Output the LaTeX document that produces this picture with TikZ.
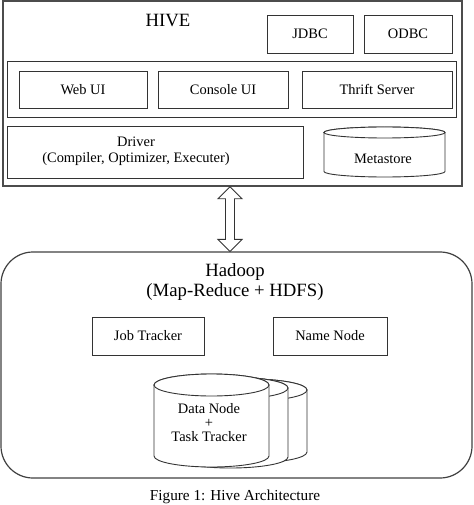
\documentclass[tikz,border=0pt]{standalone}
\usepackage{fontspec}
\setmainfont{Liberation Serif}
\usetikzlibrary{calc}
\newcommand\fsm{\fontsize{14.5}{15}\selectfont}
\newcommand\fbg{\fontsize{18.8}{20}\selectfont}
\newcommand\mycyl[5]{%
  \filldraw[cylstyle] (#1-#4,#2) -- (#1-#4,#3)
    arc[start angle=180,end angle=360,x radius=#4bp,y radius=#5bp]
    -- (#1+#4,#2)
    arc[start angle=0,end angle=180,x radius=#4bp,y radius=#5bp] -- cycle;
  \draw[cylstyle] (#1,#2) ellipse[x radius=#4bp,y radius=#5bp];}
\begin{document}
\begin{tikzpicture}[x=1bp,y=-1bp,
  box/.style={draw=black!80,line width=0.9bp,inner sep=0pt,font=\fsm},
  frame/.style={draw=black!70,line width=1.5bp,inner sep=0pt},
  cylstyle/.style={draw=black!80,line width=0.9bp,fill=white},
  txt/.style={inner sep=0pt,font=\fsm,align=center}]
\useasboundingbox (0,0) rectangle (474,505);
% HIVE
\node[frame,minimum width=459bp,minimum height=185bp] (hive) at (232.5,93.5) {};
\node[inner sep=0pt,font=\fbg] (hivelabel) at (168,21) {HIVE};
\node[box,minimum width=86bp,minimum height=38bp] (jdbc) at (310,34) {JDBC};
\node[box,minimum width=88bp,minimum height=38bp] (odbc) at (408,34) {ODBC};
\node[box,minimum width=449bp,minimum height=56bp] (iface) at (231.5,89) {};
\node[box,minimum width=128bp,minimum height=37bp] (web) at (83,89.5) {Web UI};
\node[box,minimum width=130bp,minimum height=37bp] (console) at (223,89.5) {Console UI};
\node[box,minimum width=150bp,minimum height=37bp] (thrift) at (377,89.5) {Thrift Server};
\node[box,minimum width=296bp,minimum height=52bp] (driver) at (155,152) {};
\node[txt] (drivertext) at (136,151.5) {Driver\\[1pt](Compiler, Optimizer, Executer)};
\mycyl{384.5}{132.5}{171.5}{60.5}{5.5}
\node[txt] (meta) at (383,159) {Metastore};
% Hadoop
\node[draw=black!75,line width=1.2bp,rounded corners=32bp,minimum width=471bp,minimum height=226bp,inner sep=0pt] (hadoop) at (236.5,365) {};
\node[inner sep=0pt,font=\fbg,align=center] (hadooplabel) at (235,282) {Hadoop\\(Map-Reduce + HDFS)};
\node[box,minimum width=112bp,minimum height=38bp] (job) at (148,336) {Job Tracker};
\node[box,minimum width=114bp,minimum height=38bp] (name) at (330,336) {Name Node};
\mycyl{249.5}{390}{452}{57.5}{11}
\mycyl{230.5}{388}{457}{57.5}{11}
\mycyl{211.5}{385}{456}{57.5}{11}
\node[txt] (dn) at (209,423) {Data Node\\[-1pt]+\\[-1pt]Task Tracker};
% double arrow
\coordinate (atop) at (hive.south -| 230,0);
\coordinate (abot) at (hadoop.north -| 230,0);
\draw[draw=black!80,line width=0.9bp,fill=white] (atop) -- ++(12,12) -- ++(-7.5,0) -- ($(abot)+(4.5,-12)$) -- ++(7.5,0) -- (abot) -- ++(-12,-12) -- ++(7.5,0) -- ($(atop)+(-4.5,12)$) -- ++(-7.5,0) -- cycle;
% caption
\node[anchor=base,inner sep=0pt,font=\fontsize{15.3}{16}\selectfont] (caption) at (235,500) {Figure 1: Hive Architecture};
\end{tikzpicture}
\end{document}
